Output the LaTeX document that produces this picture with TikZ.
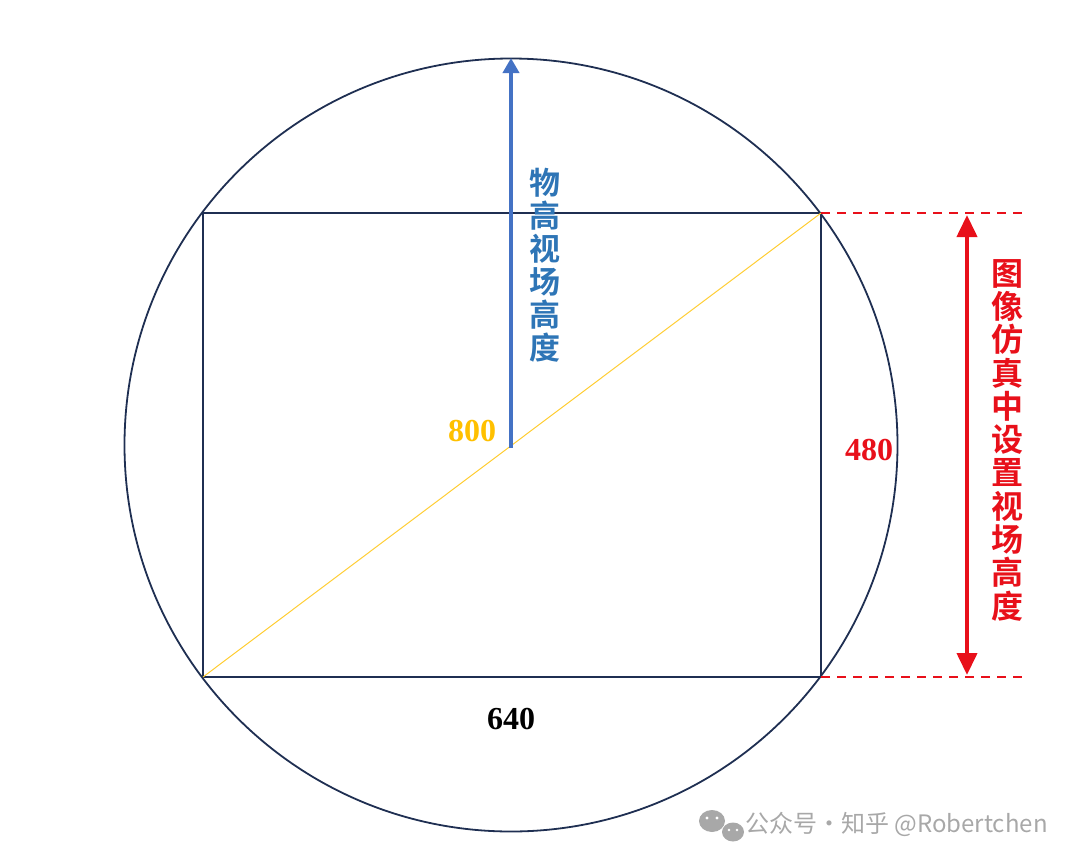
\documentclass[tikz,border=0pt]{standalone}
\usepackage{fontspec}
\setmainfont{Liberation Serif}
\newfontfamily\cjk{Noto Sans CJK SC}[BoldFont={* Bold}]
\usetikzlibrary{arrows.meta}
\definecolor{navy}{HTML}{1F2F52}
\definecolor{myblue}{HTML}{4472C4}
\definecolor{txtblue}{HTML}{2E75B6}
\definecolor{myyellow}{HTML}{FFC000}
\definecolor{myred}{HTML}{E8101A}
\definecolor{wmgrey}{HTML}{A8A8A8}
\tikzset{
  outline/.style={draw=navy, line width=1.8pt},
  numlabel/.style={font=\fontsize{32}{34}\selectfont\bfseries, inner sep=0pt},
  vtext/.style={align=center, inner sep=0pt},
  redguide/.style={draw=myred, line width=1.8pt, dash pattern=on 9pt off 7pt},
}
\begin{document}
\begin{tikzpicture}[x=1pt,y=-1pt]
\useasboundingbox (0,0) rectangle (1080,868);
% circle and rectangle
\coordinate (c) at (511,445);
\draw[outline] (c) circle (386.5);
\coordinate (tl) at (203,213);
\coordinate (tr) at (821,213);
\coordinate (bl) at (203,677);
\coordinate (br) at (821,677);
\draw[outline] (tl) rectangle (br);
% diagonal
\draw[myyellow!80, line width=1pt] (bl) -- (tr);
% blue arrow
\coordinate (btop) at (511,58);
\coordinate (bbot) at (511,448);
\draw[myblue, line width=4pt, -{Triangle[width=16pt,length=15pt]}] (bbot) -- (btop);
\node[vtext, text=txtblue, font=\cjk\bfseries\fontsize{31}{33}\selectfont, anchor=north] (blab) at (545,168) {物\\高\\视\\场\\高\\度};
% numbers
\node[numlabel, text=myyellow] (n800) at (472,431) {800};
\node[numlabel, text=myred] (n480) at (869,450) {480};
\node[numlabel, text=black] (n640) at (511,719) {640};
% red guides
\coordinate (rt) at (1028,213);
\coordinate (rb) at (1028,677);
\draw[redguide] (tr) -- (rt);
\draw[redguide] (br) -- (rb);
\coordinate (at) at (967,215);
\coordinate (ab) at (967,675);
\draw[myred, line width=4pt, {Triangle[width=20pt,length=22pt]}-{Triangle[width=20pt,length=22pt]}] (ab) -- (at);
\node[vtext, text=myred, font=\cjk\bfseries\fontsize{32}{33.3}\selectfont, anchor=north] (rlab) at (1007,259) {图\\像\\仿\\真\\中\\设\\置\\视\\场\\高\\度};
% watermark
\fill[wmgrey] (712,821) ellipse (13 and 11);
\fill[wmgrey] (733,832) ellipse (11 and 9.5);
\fill[white] (707,818) circle (1.6);
\fill[white] (717,818) circle (1.6);
\fill[white] (729,830) circle (1.3);
\fill[white] (737,830) circle (1.3);
\node[text=wmgrey, font=\cjk\fontsize{24}{26}\selectfont, anchor=west, inner sep=0pt] (wm) at (745,824) {公众号·知乎 @Robertchen};
\end{tikzpicture}
\end{document}
